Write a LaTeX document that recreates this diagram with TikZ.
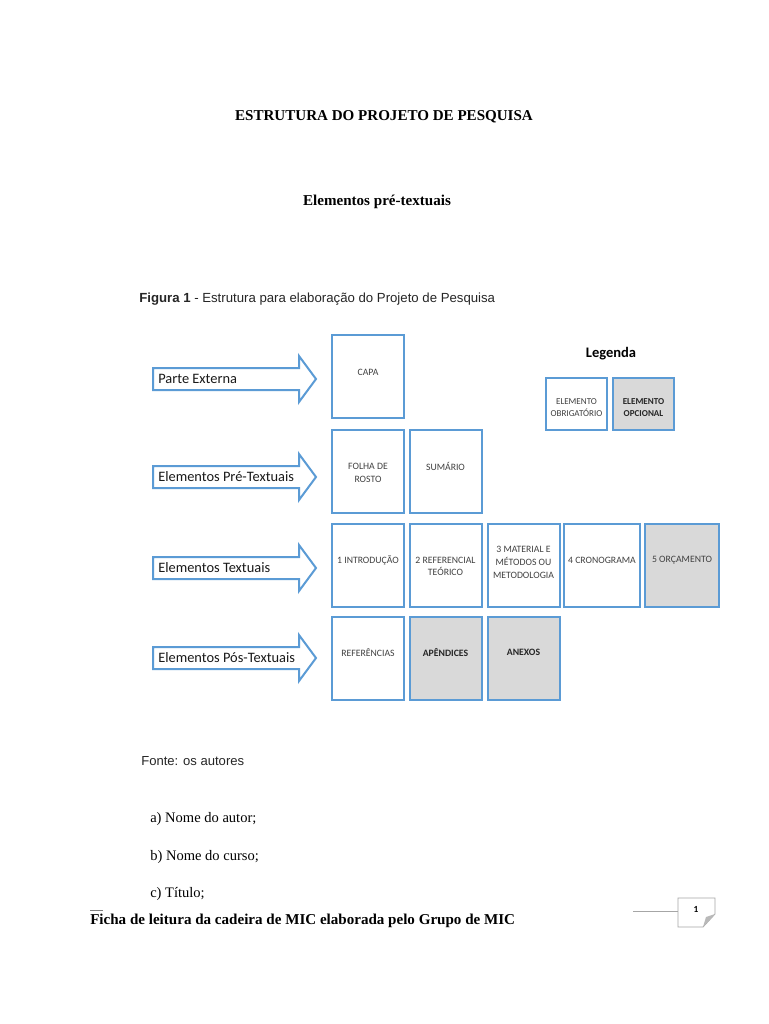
\documentclass[tikz,border=0pt]{standalone}
\usepackage{fontspec}
\setmainfont{Liberation Serif}
\newfontfamily\calfont{Carlito}
\newfontfamily\arialfont{Liberation Sans}
\definecolor{boxblue}{HTML}{5B9BD5}
\definecolor{boxgray}{HTML}{D9D9D9}
\definecolor{txtgray}{HTML}{404040}
\begin{document}
\begin{tikzpicture}[x=0.75pt,y=-0.75pt,
  box/.style={draw=boxblue, line width=1.5pt, fill=white, minimum width=54pt, minimum height=62.25pt, inner sep=0pt},
  optbox/.style={box, fill=boxgray},
  boxtxt/.style={font=\calfont\fontsize{7.3}{9.5}\selectfont, text=txtgray, align=center, inner sep=0pt},
  boxtxtb/.style={boxtxt, font=\calfont\bfseries\fontsize{7.3}{9.5}\selectfont, text=black!85},
  legbox/.style={box, minimum width=45.75pt, minimum height=39pt},
  legtxt/.style={boxtxt, font=\calfont\fontsize{6.8}{9}\selectfont},
  arrowline/.style={draw=boxblue, line width=1.5pt, fill=white, line join=miter},
  arrtxt/.style={font=\calfont\fontsize{10.8}{13}\selectfont, text=black!90, anchor=west, inner sep=0pt},
  blockarrow/.pic={\draw[arrowline] (0,-11) -- (146,-11) -- (146,-23) -- (163,0) -- (146,23) -- (146,11) -- (0,11) -- cycle;},
  serif/.style={font=\fontsize{10.9}{12}\selectfont, anchor=west, inner sep=0pt}
]
\useasboundingbox[fill=white] (0,0) rectangle (768,1024);

% titles
\node[font=\bfseries\fontsize{11.3}{13}\selectfont, inner sep=0pt] (title) at (384,117) {ESTRUTURA DO PROJETO DE PESQUISA};
\node[font=\bfseries\fontsize{11.3}{13}\selectfont, inner sep=0pt] (subtitle) at (377,202) {Elementos pré-textuais};
\node[font=\arialfont\fontsize{9.9}{11}\selectfont, text=black!85, anchor=west, inner sep=0pt] (caption) at (139,299) {\textbf{Figura 1} - Estrutura para elaboração do Projeto de Pesquisa};

% arrows
\pic (a1) at (153,379) {blockarrow};
\pic (a2) at (153,477) {blockarrow};
\pic (a3) at (153,568) {blockarrow};
\pic (a4) at (153,658) {blockarrow};
\node[arrtxt] (l1) at (158,379) {Parte Externa};
\node[arrtxt] (l2) at (158,477) {Elementos Pré-Textuais};
\node[arrtxt] (l3) at (158,568) {Elementos Textuais};
\node[arrtxt] (l4) at (158,658) {Elementos Pós-Textuais};

% row 1
\node[box] (capa) at (368,376.5) {};
\node[boxtxt] (capat) at ([yshift=3pt]capa.center) {CAPA};
% row 2
\node[box] (folha) at (368,471.5) {};
\node[boxtxt] (folhat) at ([yshift=-1pt]folha.center) {FOLHA DE\\ROSTO};
\node[box] (sum) at (445.5,471.5) {};
\node[boxtxt] (sumt) at ([yshift=4pt]sum.center) {SUMÁRIO};
% row 3
\node[box] (intro) at (368,565) {};
\node[boxtxt] (introt) at ([yshift=3.5pt]intro.center) {1 INTRODUÇÃO};
\node[box] (ref) at (445.5,565) {};
\node[boxtxt] (reft) at ([yshift=-1pt]ref.center) {2 REFERENCIAL\\TEÓRICO};
\node[box] (mat) at (523.5,565) {};
\node[boxtxt] (matt) at ([yshift=2pt]mat.center) {3 MATERIAL E\\MÉTODOS OU\\METODOLOGIA};
\node[box, minimum width=57pt] (crono) at (602,565) {};
\node[boxtxt] (cronot) at ([yshift=3.5pt]crono.center) {4 CRONOGRAMA};
\node[optbox, minimum width=55.5pt] (orc) at (682,565) {};
\node[boxtxt] (orct) at ([yshift=3.5pt]orc.center) {5 ORÇAMENTO};
% row 4
\node[box] (refs) at (368,658) {};
\node[boxtxt] (refst) at ([yshift=4pt]refs.center) {REFERÊNCIAS};
\node[optbox] (apend) at (445.5,658) {};
\node[boxtxtb] (apendt) at ([yshift=4pt]apend.center) {APÊNDICES};
\node[optbox] (anexos) at (523.5,658) {};
\node[boxtxtb] (anexost) at ([yshift=4pt]anexos.center) {ANEXOS};

% legend
\node[font=\calfont\bfseries\fontsize{10.9}{12}\selectfont, inner sep=0pt] (leg) at (611,354) {Legenda};
\node[legbox] (obr) at (576.5,404) {};
\node[legtxt] (obrt) at ([yshift=-3pt]obr.center) {ELEMENTO\\OBRIGATÓRIO};
\node[legbox, fill=boxgray] (opc) at (643.5,404) {};
\node[legtxt, font=\calfont\bfseries\fontsize{6.8}{9}\selectfont, text=black!85] (opct) at ([yshift=-3pt]opc.center) {ELEMENTO\\OPCIONAL};

% source and list
\node[font=\arialfont\fontsize{9.8}{11}\selectfont, text=black!85, anchor=west, inner sep=0pt] (fonte) at (141,761) {Fonte: os autores};
\node[serif] (ia) at (150,819) {a) Nome do autor;};
\node[serif] (ib) at (150,857) {b) Nome do curso;};
\node[serif] (ic) at (150,894) {c) Título;};

% footer
\draw[gray, line width=0.5pt] (90,910) -- (103,910);
\node[font=\bfseries\fontsize{11.3}{13}\selectfont, anchor=west, inner sep=0pt] (footer) at (90,921) {Ficha de leitura da cadeira de MIC elaborada pelo Grupo de MIC};

% page number
\coordinate (pl) at (633,911);
\draw[gray!70, line width=0.6pt, fill=white] (678,898) -- (715,898) -- (715,914) -- (703,927) -- (678,927) -- cycle;
\fill[gray!55] (715,914) -- (703,927) -- (706,917) -- cycle;
\node[font=\calfont\bfseries\fontsize{7}{8}\selectfont, inner sep=0pt] (pnum) at (696,909) {1};
\coordinate (pr) at (678,911);
\draw[gray!70, line width=0.6pt] (pl) -- (pr);
\end{tikzpicture}
\end{document}
